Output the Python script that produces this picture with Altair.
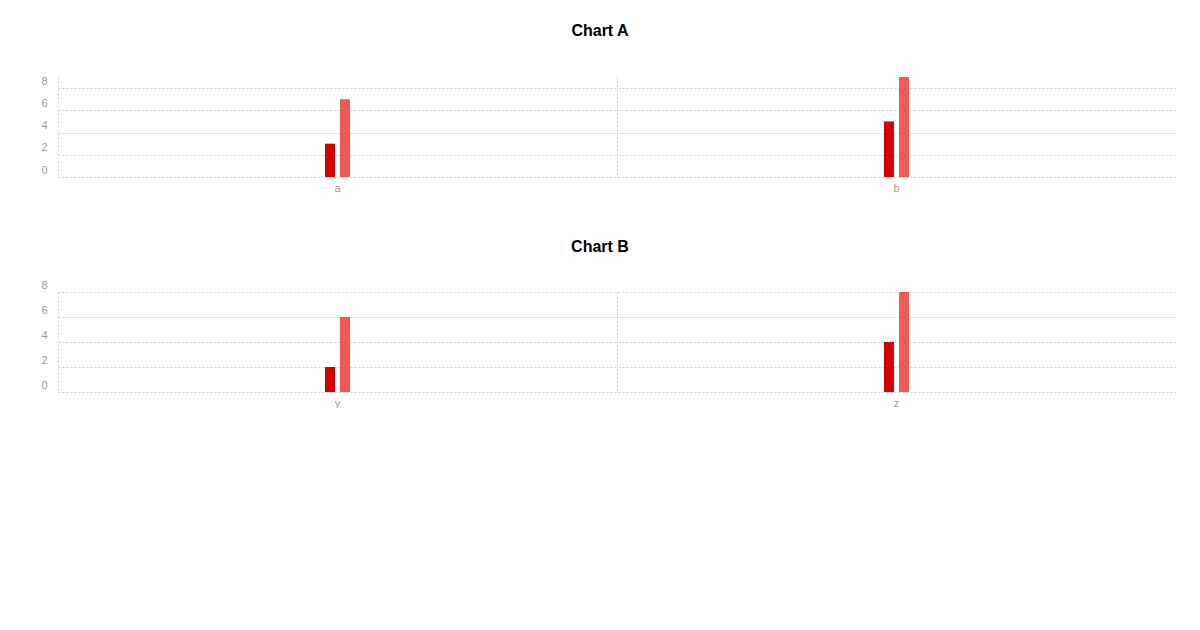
import altair as alt
import pandas as pd

# Data
cats_a = ["a", "b"]
cats_b = ["y", "z"]
series = ["s1", "s2"]
a_s1 = [3, 5]
a_s2 = [7, 9]
b_s1 = [2, 4]
b_s2 = [6, 8]
colors = ["#d50000", "#f05b4f"]

def make_df(cats, v1, v2):
    rows = []
    for c, x1, x2 in zip(cats, v1, v2):
        rows.append({"cat": c, "series": series[0], "value": x1})
        rows.append({"cat": c, "series": series[1], "value": x2})
    return pd.DataFrame(rows)

FONT = "Liberation Sans"

def panel(df, title, offset):
    return alt.Chart(df, title=alt.TitleParams(
        title, fontSize=16, fontWeight="bold", font=FONT, color="#000",
        anchor="middle", frame="group", dx=-17, offset=offset
    )).mark_bar(width=10).encode(
        x=alt.X("cat:N", title=None, sort=None,
                scale=alt.Scale(paddingInner=0, paddingOuter=0),
                axis=alt.Axis(labelAngle=0, domain=False, ticks=False,
                              labelColor="#999", labelFontSize=11, labelFont=FONT,
                              labelPadding=5, grid=True, bandPosition=0,
                              gridColor="#ccc", gridDash=[2, 2])),
        xOffset=alt.XOffset("series:N", sort=series,
                            scale=alt.Scale(paddingInner=0, paddingOuter=0,
                                            range=[264.5, 294.5])),
        y=alt.Y("value:Q", title=None,
                scale=alt.Scale(nice=False, zero=True),
                axis=alt.Axis(tickCount=5, domain=False, ticks=False,
                              labelColor="#999", labelFontSize=11, labelFont=FONT,
                              labelPadding=11, labelBaseline="bottom", labelOffset=-2,
                              minExtent=50, maxExtent=50,
                              gridColor="#ccc", gridDash=[2, 2])),
        color=alt.Color("series:N", sort=series,
                        scale=alt.Scale(domain=series, range=colors), legend=None),
    ).properties(width=1118, height=100)

chart = alt.vconcat(
    panel(make_df(cats_a, a_s1, a_s2), "Chart A", 36),
    panel(make_df(cats_b, b_s1, b_s2), "Chart B", 24),
    spacing=46,
).properties(
    padding={"left": 0, "top": 15, "right": 0, "bottom": 0}
).configure(font=FONT).configure_view(strokeWidth=0, stroke="transparent")

chart.save("out.html", embed_options={"renderer": "svg", "actions": False})
